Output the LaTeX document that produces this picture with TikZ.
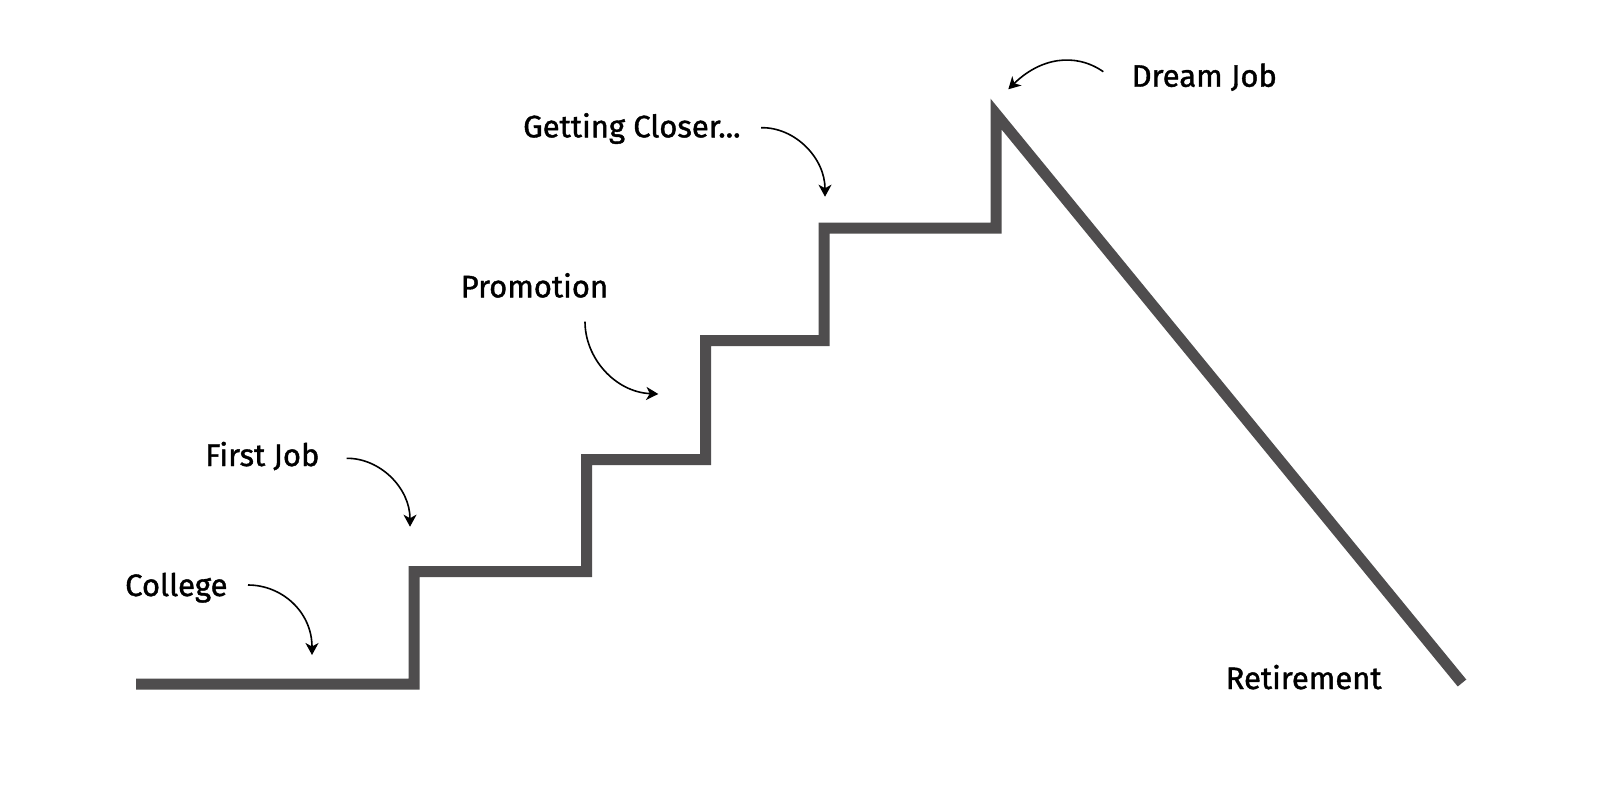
\documentclass[tikz,border=0pt]{standalone}
\usepackage{fontspec}
\setmainfont{Fira Sans}
\newfontfamily\labfont{Fira Sans}[FakeBold=1.3]
\usetikzlibrary{arrows.meta}
\definecolor{stair}{RGB}{79,77,78}
\begin{document}
\begin{tikzpicture}[x=1pt,y=-1pt,
  label/.style={anchor=base west,inner sep=0pt,font=\labfont\fontsize{31}{36}\selectfont,text=black},
  pointer/.style={line width=1.6pt,black,-{Stealth[length=12pt,width=13pt,inset=3.5pt]}},
  stairline/.style={line width=11pt,stair,line join=miter,line cap=butt}]
\useasboundingbox[fill=white] (0,0) rectangle (1600,809);

% staircase
\coordinate (s0) at (136,684);
\coordinate (s1) at (414,684);
\coordinate (s2) at (414,571.5);
\coordinate (s3) at (586.5,571.5);
\coordinate (s4) at (586.5,459.5);
\coordinate (s5) at (705.5,459.5);
\coordinate (s6) at (705.5,340.5);
\coordinate (s7) at (824,340.5);
\coordinate (s8) at (824,228);
\coordinate (s9) at (996,228);
\coordinate (s10) at (996,114);
\coordinate (s11) at (1462,683);
\draw[stairline] (s0) -- (s1) -- (s2) -- (s3) -- (s4) -- (s5) -- (s6) -- (s7) -- (s8) -- (s9) -- (s10) -- (s11);

% labels
\node[label] (college) at (125,596) {College};
\node[label] (firstjob) at (205,466) {First Job};
\node[label] (promotion) at (460.5,297.3) {Promotion};
\node[label] (closer) at (523,137.3) {Getting Closer...};
\node[label] (dream) at (1131.5,86.7) {Dream Job};
\node[label] (retire) at (1225.5,689) {Retirement};

% arrow ends
\coordinate (a1s) at (248,585);   \coordinate (a1e) at (312,655);
\coordinate (a2s) at (346.7,458.3); \coordinate (a2e) at (410,526.7);
\coordinate (a3s) at (585,321.7); \coordinate (a3e) at (658.3,394);
\coordinate (a4s) at (761,127.7); \coordinate (a4e) at (825,196.7);
\coordinate (a5s) at (1103.3,71.7); \coordinate (a5e) at (1008.3,89.3);

\draw[pointer] (a1s) .. controls (282,585) and (312,612) .. (a1e);
\draw[pointer] (a2s) .. controls (380,458) and (410,488) .. (a2e);
\draw[pointer] (a3s) .. controls (585,358) and (615,392) .. (a3e);
\draw[pointer] (a4s) .. controls (795,127) and (825,158) .. (a4e);
\draw[pointer] (a5s) .. controls (1075,52) and (1040,58) .. (a5e);
\end{tikzpicture}
\end{document}
